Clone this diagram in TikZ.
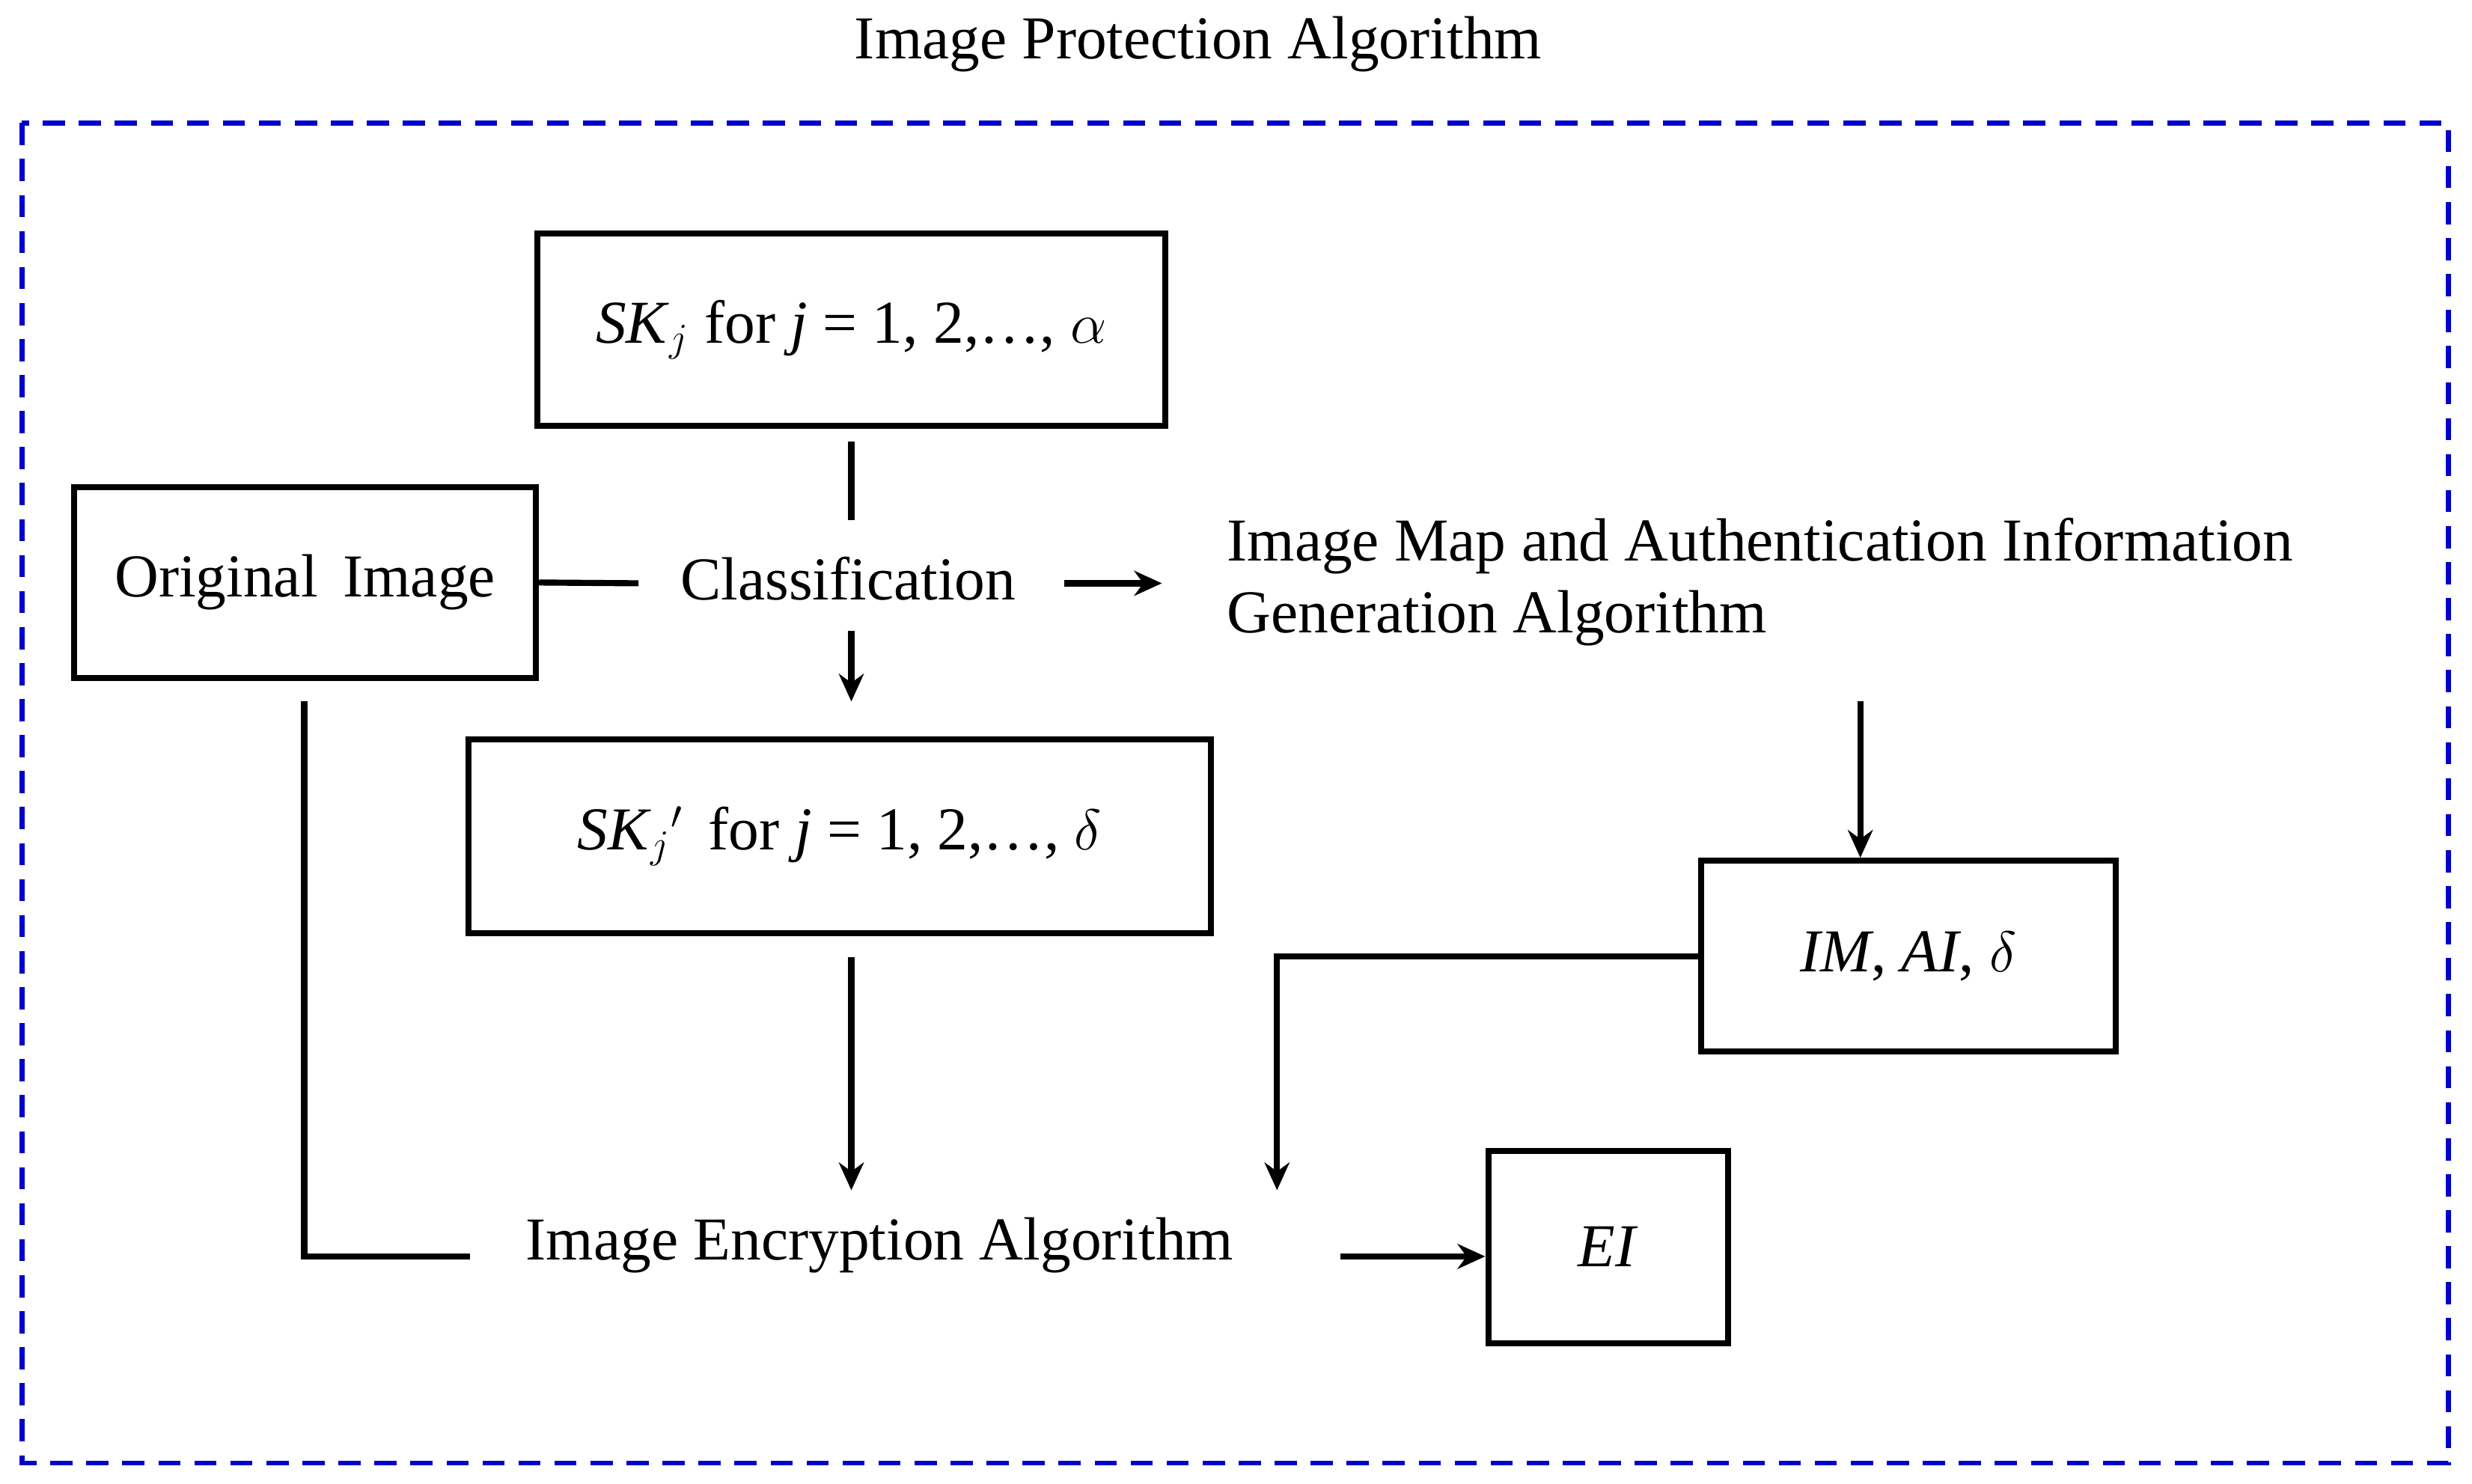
\documentclass[tikz,border=0pt]{standalone}
\usepackage{fontspec}
\setmainfont{Liberation Serif}
\usetikzlibrary{arrows.meta}
\begin{document}
\begin{tikzpicture}[x=0.02cm,y=-0.02cm,
  box/.style={draw,line width=2.2pt,inner sep=0pt,font=\fontsize{22}{26}\selectfont},
  lbl/.style={inner sep=0pt,font=\fontsize{22}{26}\selectfont},
  conn/.style={line width=2.2pt},
  arr/.style={conn,-{Stealth[length=10pt,width=9pt]}}]
\useasboundingbox (0,0) rectangle (1568,941);
\node[lbl] (title) at (760,28) {Image Protection Algorithm};
\draw[blue!80!black,line width=1.8pt,dash pattern=on 8pt off 5pt] (14,78) rectangle (1553,928);
\node[box,minimum width=7.96cm,minimum height=2.44cm] (sk) at (540,209) {\textit{SK}$_{j}$ for \textit{j} = 1, 2,\dots, $\alpha$};
\node[box,minimum width=5.86cm,minimum height=2.42cm] (orig) at (193.5,369.5) {Original\, Image};
\node[lbl] (cls) at (538,367) {Classification};
\node[lbl,align=left,anchor=west] (map) at (778,369) {Image Map and Authentication Information\\Generation Algorithm};
\node[box,minimum width=9.42cm,minimum height=2.46cm] (skp) at (532.5,530.5) {\textit{SK}$_{j}{}'$\, for \textit{j} = 1, 2,\dots, $\delta$};
\node[box,minimum width=5.26cm,minimum height=2.42cm] (im) at (1210.5,606.5) {\textit{IM}, \textit{AI}, $\delta$};
\node[box,minimum width=3.04cm,minimum height=2.44cm] (ei) at (1020,791) {\textit{EI}};
\node[lbl] (enc) at (558,790) {Image Encryption Algorithm};
\coordinate (a1) at (540,280); \coordinate (a2) at (540,330);
\draw[conn] (a1) -- (a2);
\coordinate (b2) at (405,370);
\draw[conn] (orig.east) -- (b2);
\coordinate (c1) at (675,370); \coordinate (c2) at (737,370);
\draw[arr] (c1) -- (c2);
\coordinate (d1) at (540,400); \coordinate (d2) at (540,445);
\draw[arr] (d1) -- (d2);
\coordinate (e1) at (1180,445);
\draw[arr] (e1) -- (e1 |- im.north);
\coordinate (f2) at (810,755);
\draw[arr] (im.west) -| (f2);
\coordinate (g1) at (540,607); \coordinate (g2) at (540,755);
\draw[arr] (g1) -- (g2);
\coordinate (h1) at (193,445); \coordinate (h2) at (298,797);
\draw[conn] (h1) |- (h2);
\coordinate (i1) at (850,797);
\draw[arr] (i1) -- (i1 -| ei.west);
\end{tikzpicture}
\end{document}
